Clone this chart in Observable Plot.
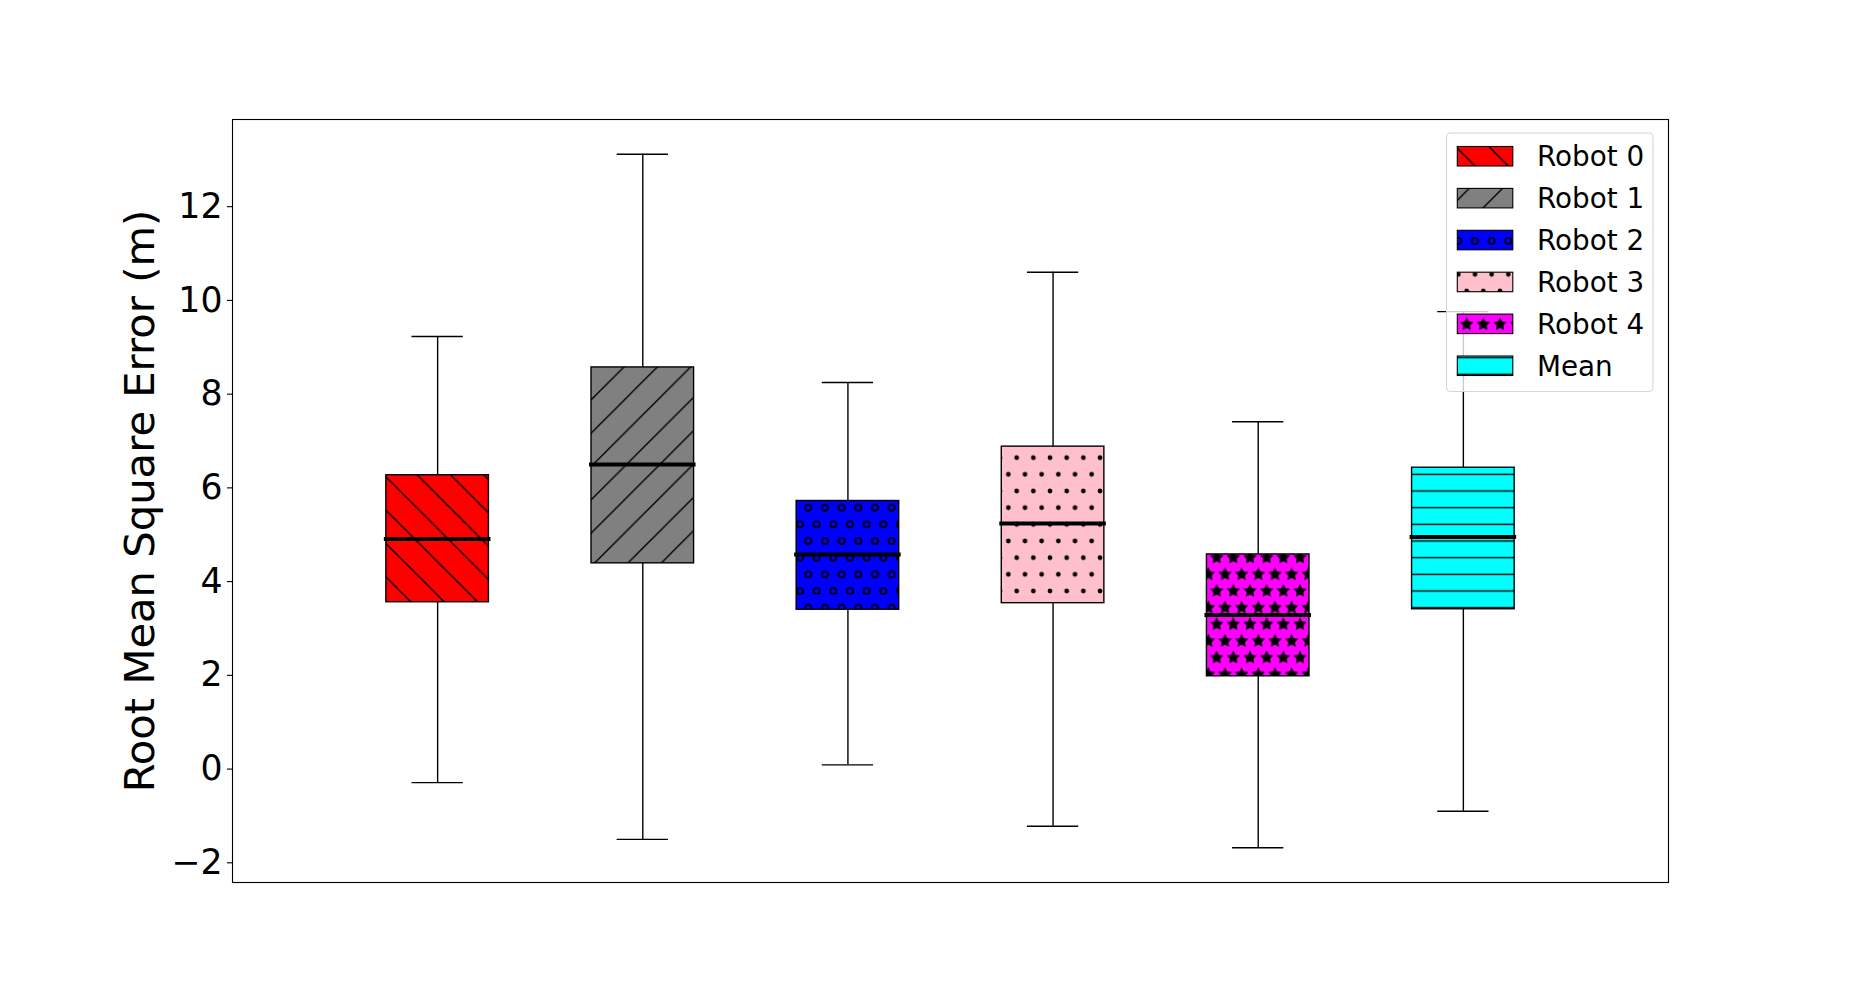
<!DOCTYPE html>
<html><head><meta charset="utf-8">
<script src="https://cdn.jsdelivr.net/npm/d3@7"></script>
<script src="https://cdn.jsdelivr.net/npm/@observablehq/plot@0.6"></script>
<style>html,body{margin:0;padding:0;background:#fff;overflow:hidden}</style>
</head><body><div id="chart"></div>
<script>
// ---- data ----
const names = ["Robot 0", "Robot 1", "Robot 2", "Robot 3", "Robot 4", "Mean"];
const positions = [1, 2, 3, 4, 5, 6];
const whiskerLow = [-0.29, -1.50, 0.09, -1.22, -1.68, -0.90];
const q1 = [3.56, 4.39, 3.40, 3.54, 1.98, 3.41];
const median = [4.91, 6.50, 4.58, 5.24, 3.29, 4.95];
const q3 = [6.27, 8.57, 5.72, 6.88, 4.58, 6.43];
const whiskerHigh = [9.23, 13.12, 8.25, 10.60, 7.41, 9.76];
const fillColors = ["#ff0000", "#808080", "#0000ff", "#ffc0cb", "#ff00ff", "#00ffff"];
const hatches = ["\\", "/", "o", ".", "*", "-"];
const yTicks = [-2, 0, 2, 4, 6, 8, 10, 12];
const yLabel = "Root Mean Square Error (m)";

const data = names.map((name, i) => ({
  name, pos: positions[i], lo: whiskerLow[i], q1: q1[i], med: median[i],
  q3: q3[i], hi: whiskerHigh[i], color: fillColors[i], hatch: `url(#hatch${i})`
}));

const W = 1853, H = 991;
const boxHalf = 0.25, capHalf = 0.125;
const lo = d3.min(whiskerLow), hi = d3.max(whiskerHigh), pad = (hi - lo) * 0.05;

const chart = Plot.plot({
  width: W, height: H,
  marginLeft: 232, marginRight: 185, marginTop: 119, marginBottom: 109,
  style: {fontFamily: "'DejaVu Sans', sans-serif", background: "white", color: "black", overflow: "visible"},
  x: {domain: [0, 7], axis: null},
  y: {domain: [lo - pad, hi + pad], axis: null},
  color: {type: "identity"},
  marks: [
    Plot.ruleX(data, {x: "pos", y1: "q3", y2: "hi", stroke: "black", strokeWidth: 1.4}),
    Plot.ruleX(data, {x: "pos", y1: "lo", y2: "q1", stroke: "black", strokeWidth: 1.4}),
    Plot.ruleY(data, {y: "hi", x1: d => d.pos - capHalf, x2: d => d.pos + capHalf, stroke: "black", strokeWidth: 1.4}),
    Plot.ruleY(data, {y: "lo", x1: d => d.pos - capHalf, x2: d => d.pos + capHalf, stroke: "black", strokeWidth: 1.4}),
    Plot.rect(data, {x1: d => d.pos - boxHalf, x2: d => d.pos + boxHalf, y1: "q1", y2: "q3", fill: "color"}),
    Plot.rect(data, {x1: d => d.pos - boxHalf, x2: d => d.pos + boxHalf, y1: "q1", y2: "q3", fill: "hatch", stroke: "black", strokeWidth: 1.4}),
    Plot.ruleY(data, {y: "med", x1: d => d.pos - boxHalf, x2: d => d.pos + boxHalf, stroke: "black", strokeWidth: 4, strokeLinecap: "square"}),
    Plot.frame({stroke: "black", strokeWidth: 1.1}),
    Plot.axisY({ticks: yTicks, tickSize: 5, tickPadding: 5, fontSize: 34.7, label: null, strokeWidth: 1.1}),
    Plot.text([yLabel], {frameAnchor: "left", textAnchor: "middle", rotate: -90, dx: -92, fontSize: 41.7, text: d => d, fill: "black"})
  ]
});

// ---- hatch patterns (matplotlib-like, anchored at canvas bottom) ----
const S = 100 / 6, D = 2 * S, sw = 1.39;
function starPath(cx, cy, R) {
  let p = "";
  for (let k = 0; k < 10; k++) {
    const a = Math.PI / 2 + k * Math.PI / 5, r = k % 2 ? R * 0.5 : R;
    p += (k ? "L" : "M") + (cx + r * Math.cos(a)).toFixed(2) + "," + (cy - r * Math.sin(a)).toFixed(2);
  }
  return p + "Z";
}
function lattice(fn, w, h) { return fn(0, 0) + fn(w, 0) + fn(0, h) + fn(w, h) + fn(w / 2, h / 2); }
const offD = H % D, offS = H % S;
function diag(sign) { // sign -1 => "\\" (y - x = c), +1 => "/" (x + y = c)
  let p = "";
  for (const c of [offD - 2 * D, offD - D, offD, offD + D, offD + 2 * D]) {
    if (sign < 0) p += `M${-3},${c - 3}L${D + 3},${c + D + 3}`;
    else p += `M${-3},${c + 3}L${D + 3},${c - D - 3}`;
  }
  return `<path d="${p}" stroke="black" stroke-width="${sw}" fill="none"/>`;
}
const circ = (r, fill, w) => (x, y) => `<circle cx="${x}" cy="${y}" r="${r}" fill="${fill}" stroke="black" stroke-width="${w}"/>`;
const star = (x, y) => `<path d="${starPath(x, y, S / 3)}" fill="black" stroke="black" stroke-width="${sw}"/>`;
const patternDefs = [
  `<pattern id="hatch0" patternUnits="userSpaceOnUse" x="0" y="0" width="${D}" height="${D}">${diag(-1)}</pattern>`,
  `<pattern id="hatch1" patternUnits="userSpaceOnUse" x="0" y="0" width="${D}" height="${D}">${diag(1)}</pattern>`,
  `<pattern id="hatch2" patternUnits="userSpaceOnUse" x="0" y="${offD}" width="${S}" height="${D}">${lattice(circ(3.1, "none", 1.8), S, D)}</pattern>`,
  `<pattern id="hatch3" patternUnits="userSpaceOnUse" x="0" y="${offD}" width="${S}" height="${D}">${lattice(circ(S * 0.1, "black", sw), S, D)}</pattern>`,
  `<pattern id="hatch4" patternUnits="userSpaceOnUse" x="0" y="${offD}" width="${S}" height="${D}">${lattice(star, S, D)}</pattern>`,
  `<pattern id="hatch5" patternUnits="userSpaceOnUse" x="0" y="${offS - S / 2}" width="10" height="${S}"><path d="M-1,${S / 2}H11" stroke="black" stroke-width="${sw}"/></pattern>`
].join("");
const svg = d3.select(chart);
svg.insert("defs", ":first-child").html(patternDefs);

// ---- legend (inside axes, upper right) ----
const lg = svg.append("g").attr("font-family", "'DejaVu Sans', sans-serif").attr("text-anchor", "start");
lg.append("rect").attr("x", 1446.5).attr("y", 133).attr("width", 206.5).attr("height", 258.5)
  .attr("rx", 4).attr("fill", "white").attr("fill-opacity", 0.8).attr("stroke", "#d6d6d6").attr("stroke-width", 1.1);
names.forEach((name, i) => {
  const y0 = 146.5 + 41.9 * i;
  lg.append("rect").attr("x", 1457.3).attr("y", y0).attr("width", 55.5).attr("height", 19.5).attr("fill", fillColors[i]);
  lg.append("rect").attr("x", 1457.3).attr("y", y0).attr("width", 55.5).attr("height", 19.5)
    .attr("fill", `url(#hatch${i})`).attr("stroke", "black").attr("stroke-width", 1.1);
  lg.append("text").attr("x", 1537).attr("y", y0 + 19.5).attr("font-size", 27.8).attr("fill", "black")
    .attr("text-anchor", "start").text(name);
});

document.getElementById("chart").appendChild(chart);
</script>
</body></html>
